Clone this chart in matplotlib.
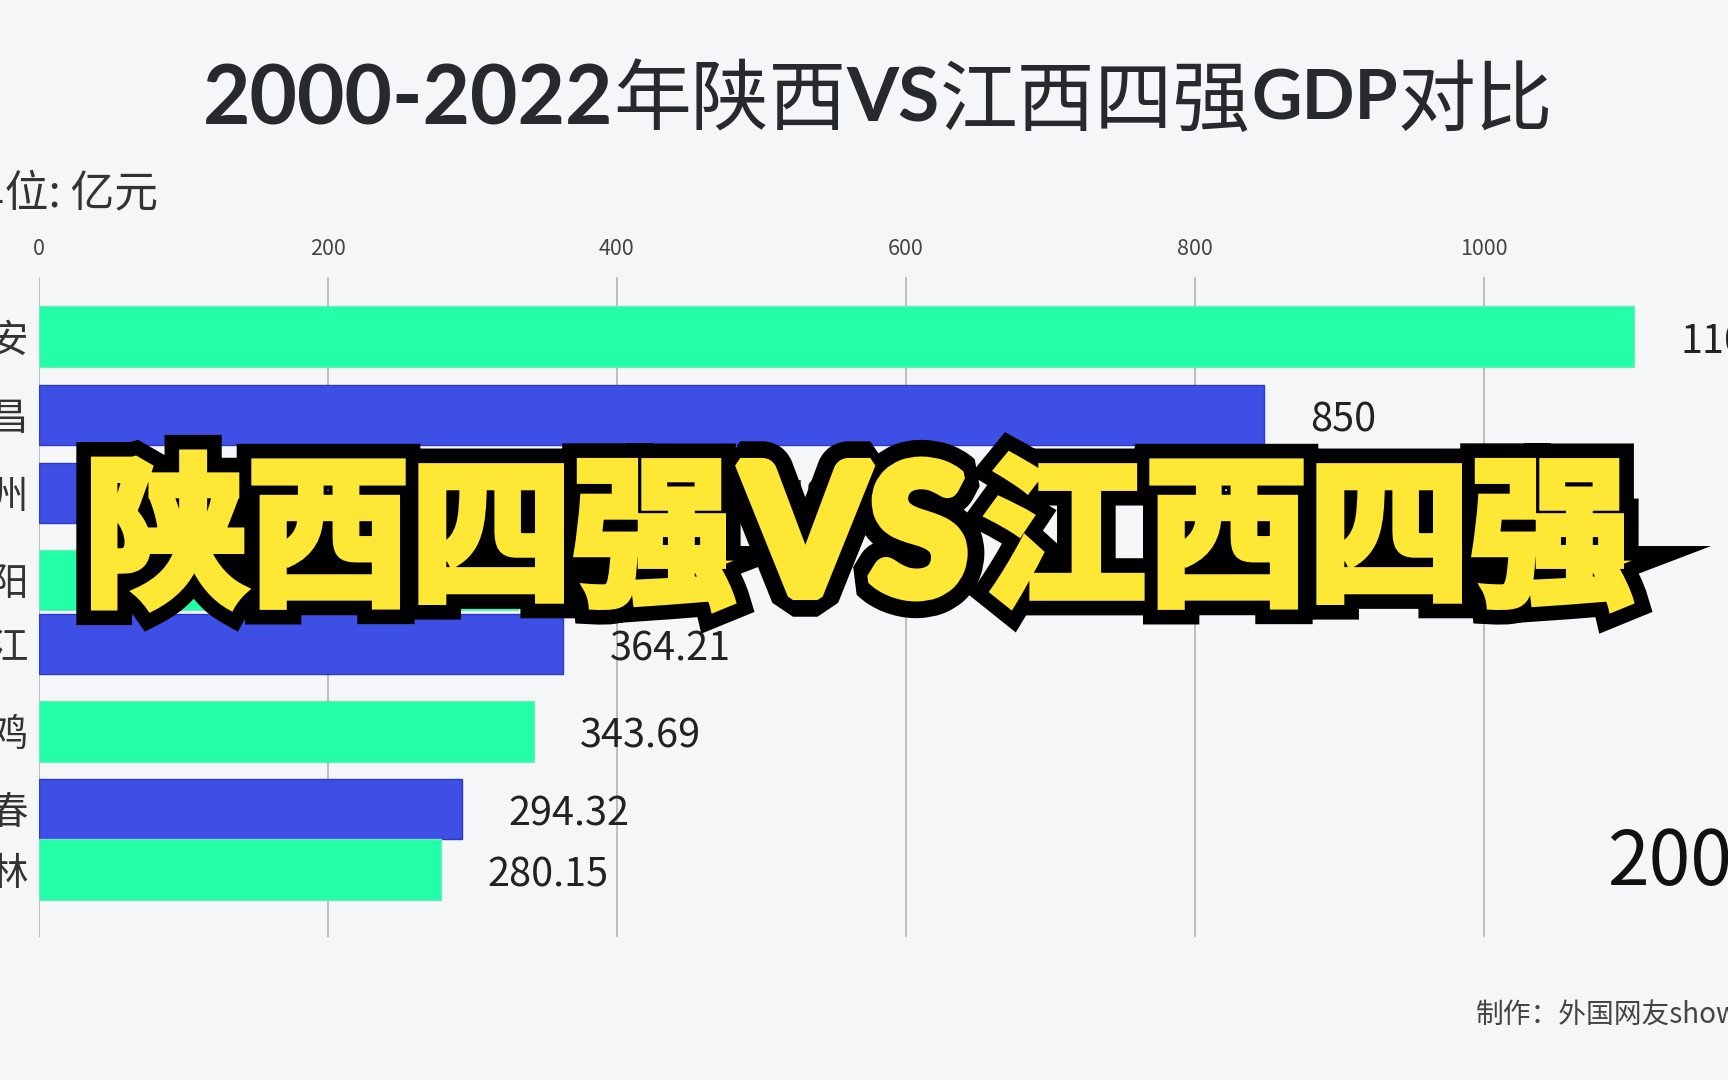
import matplotlib
matplotlib.use('Agg')
import matplotlib.pyplot as plt
import matplotlib.patheffects as pe

W, H = 1728, 1080
CJK = 'Noto Sans CJK SC'

# bar race frame
cities = ['西安', '南昌', '赣州', '咸阳', '九江', '宝鸡', '宜春', '榆林']
# bars lag a little behind their labels, so lengths and labels are kept apart
values = [1104, 848, 483, 332, 362.8, 342.5, 293, 278.4]
value_labels = ['1102', '850', '483.06', '332.06', '364.21', '343.69', '294.32', '280.15']
provinces = ['陕西', '江西', '江西', '陕西', '江西', '陕西', '江西', '陕西']
# rows are mid-animation, so the rank is fractional
ranks = [0, 1, 1.995, 3.1, 3.92, 5.03, 6.02, 6.79]
x_ticks = [0, 200, 400, 600, 800, 1000]

bar_colors = {'陕西': '#22ffa6', '江西': '#3e4fe6'}
edge_colors = {'陕西': '#6fe8c0', '江西': '#2c3ac4'}
bg = '#f5f6f8'


def fx(px):
    return px / W


def fy(px):
    return 1 - px / H


# write segments one after the other, each with its own font
def draw_run(fig, x, y, segments, **kwargs):
    renderer = fig.canvas.get_renderer()
    for s, family, size, weight, color in segments:
        t = fig.text(fx(x), fy(y), s, family=family, fontsize=size, fontweight=weight,
                     color=color, ha='left', va='center_baseline', **kwargs)
        x += t.get_window_extent(renderer).width


fig = plt.figure(figsize=(W / 100, H / 100), dpi=100, facecolor=bg)

# axes box in pixels: x=0 at 38.7, 1.445 px per unit, rows 78.5 px apart
left, right, top, bottom = 38.7, W, 277, 937
ax = fig.add_axes([fx(left), fy(bottom), fx(right - left), (bottom - top) / H], facecolor=bg)
ax.set_xlim(0, (right - left) / 1.445)
ax.set_ylim((bottom - 336.5) / 78.5, (top - 336.5) / 78.5)

colors = [bar_colors[p] for p in provinces]
edges = [edge_colors[p] for p in provinces]
ax.barh(ranks, values, height=0.77, color=colors, edgecolor=edges, linewidth=1, zorder=3)

for v, r, s in zip(values, ranks, value_labels):
    ax.annotate(s, xy=(v, r), xytext=(33.5, -4), textcoords='offset points', va='center',
                family=CJK, fontsize=28.5, color='#222222', zorder=4, annotation_clip=False)

ax.set_yticks(ranks, cities, family=CJK, fontsize=27.5, color='#333333')
ax.set_xticks(x_ticks, [str(t) for t in x_ticks], family=CJK, fontsize=15.5, color='#444444')
ax.xaxis.tick_top()
ax.tick_params(axis='x', length=0, pad=12)
ax.tick_params(axis='y', length=0, pad=7)
ax.grid(axis='x', color='#aeaeae', linewidth=1.1, zorder=1)
ax.set_axisbelow(True)
for sp in ax.spines.values():
    sp.set_visible(False)

# title mixes bold latin with regular han
dark = '#26292e'
fig.canvas.draw()
title = [('2000-2022', 'Lato', 59, 'bold', dark), ('年陕西', CJK, 56, 'regular', dark),
         ('VS', 'Lato', 54, 'bold', dark), ('江西四强', CJK, 56, 'regular', dark),
         ('GDP', 'Lato', 50, 'bold', dark), ('对比', CJK, 56, 'regular', dark)]
draw_run(fig, 203, 94, title)

fig.text(fx(158), fy(193), '单位: 亿元', family=CJK, fontsize=31.5, color='#333333',
         ha='right', va='center')
fig.text(fx(1607), fy(885), '2000', family=CJK, fontsize=54, color='#111111',
         ha='left', va='baseline')
fig.text(fx(1476), fy(1015), '制作：外国网友show', family=CJK, fontsize=20, color='#444444',
         ha='left', va='center')

# big sticker text on top: black outline pass first, then the yellow fill,
# yellow gets a stroke too because the bold face is lighter than the original
sticker = [('陕西四强', CJK, 'bold', 117, 410, 27, 6, 'miter'),
           ('VS', 'Lato', 'black', 130, 855, 32, 8, 'bevel'),
           ('江西四强', CJK, 'bold', 117, 1308, 27, 6, 'miter')]
for s, family, weight, size, cx, black_lw, yellow_lw, join in sticker:
    # thinner strokes close the small glyph holes the wide one leaves open
    outline = [pe.withStroke(linewidth=lw, foreground='black', joinstyle=join)
               for lw in (black_lw, 10, 5, 2.5)]
    fig.text(fx(cx), fy(527), s, family=family, fontsize=size, fontweight=weight, color='black',
             ha='center', va='center_baseline', path_effects=outline, zorder=10)
for s, family, weight, size, cx, black_lw, yellow_lw, join in sticker:
    thicken = [pe.withStroke(linewidth=yellow_lw, foreground='#ffe835', joinstyle=join)]
    fig.text(fx(cx), fy(527), s, family=family, fontsize=size, fontweight=weight, color='#ffe835',
             ha='center', va='center_baseline', path_effects=thicken, zorder=11)

fig.savefig('out.png', dpi=100, facecolor=bg)
